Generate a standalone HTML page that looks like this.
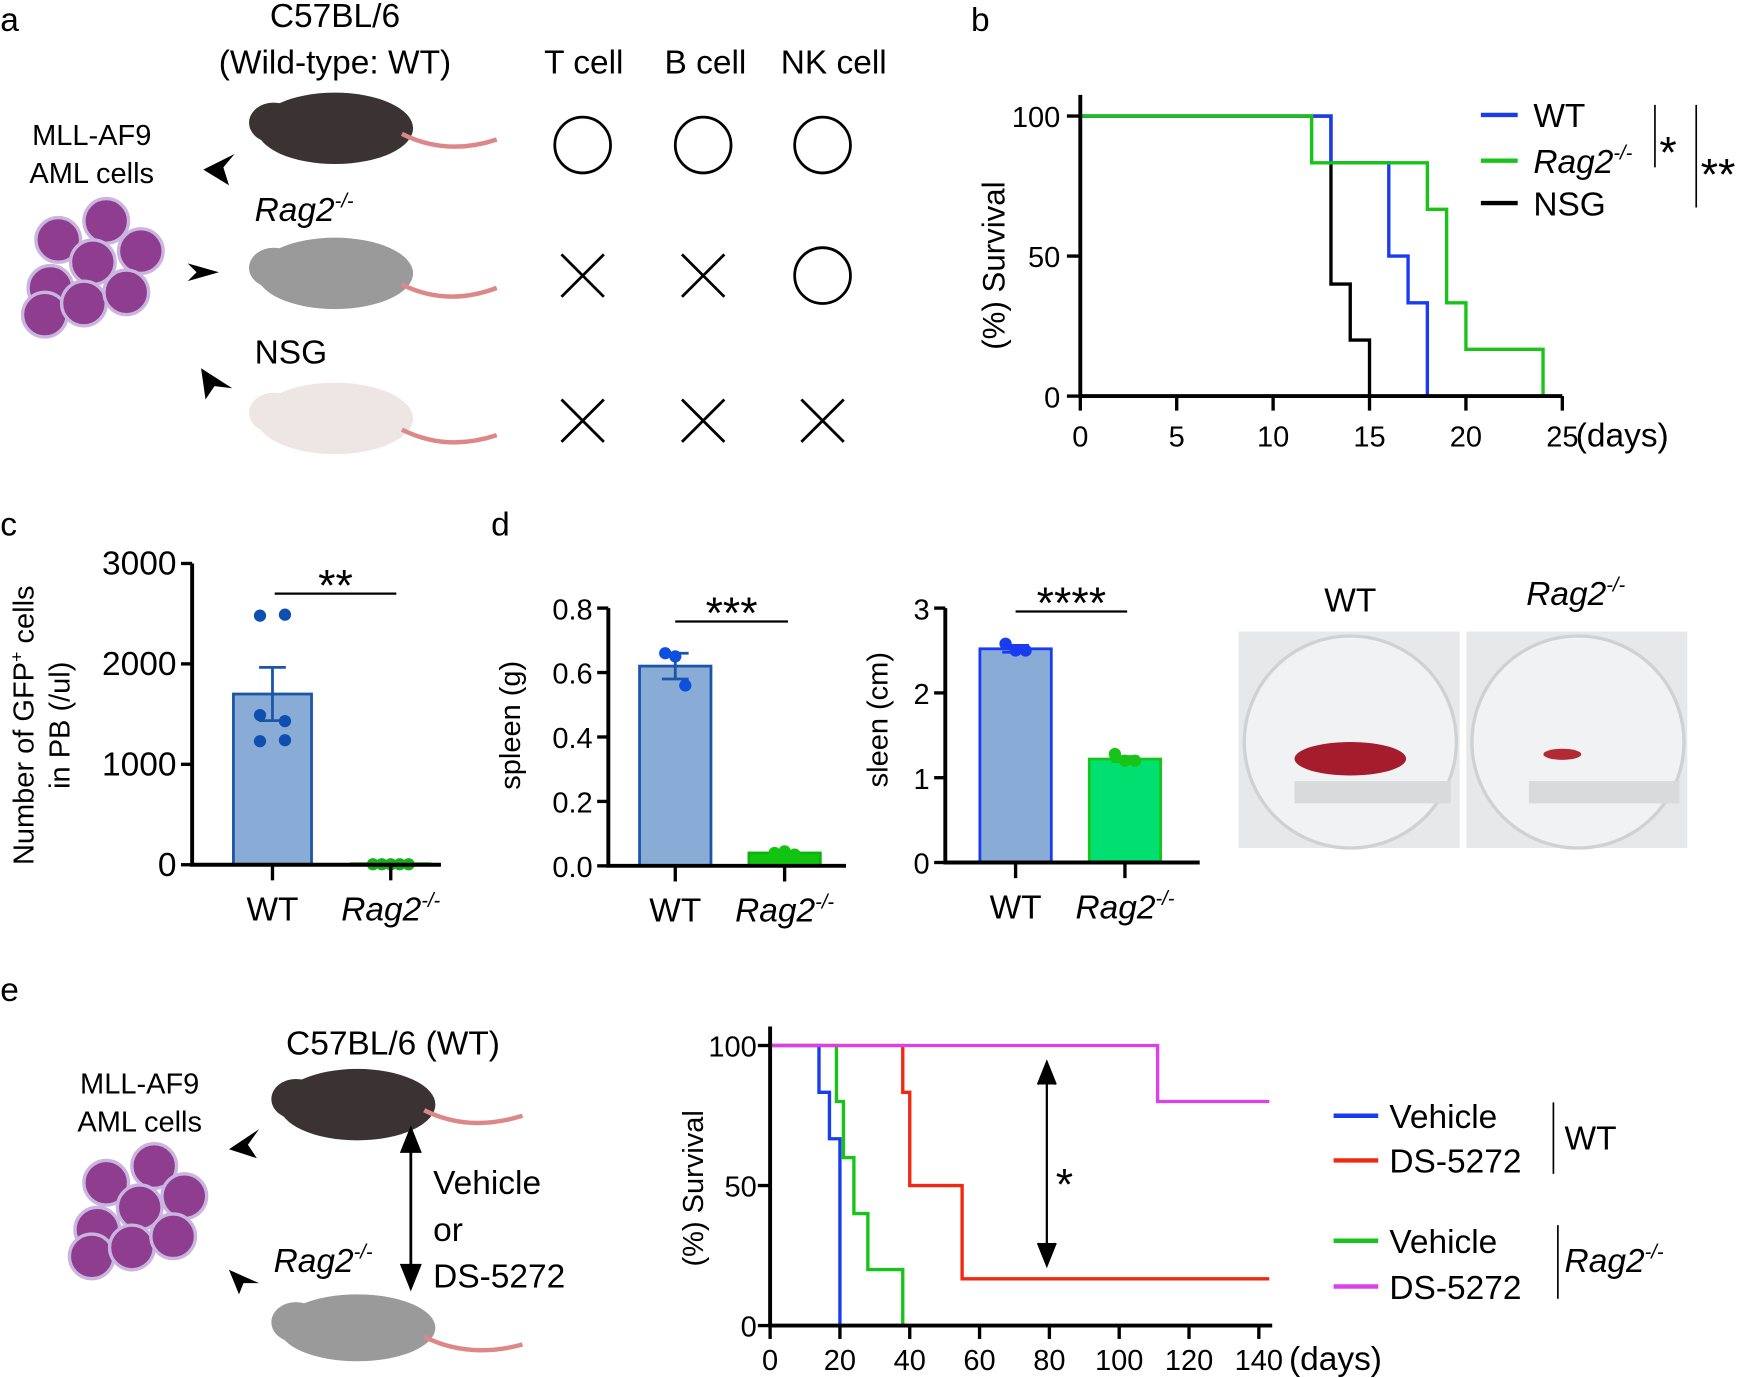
<!DOCTYPE html>
<html><head><meta charset="utf-8"><style>
html,body{margin:0;padding:0;background:#fff}
svg{display:block;font-family:"Liberation Sans",Arial,sans-serif}
</style></head><body>
<svg id="fig" width="1750" height="1378" viewBox="0 0 1568 1235" xmlns="http://www.w3.org/2000/svg">
<g id="static" font-size="30" fill="#000">
<text x="0" y="28">a</text>
<text x="300" y="24" text-anchor="middle">C57BL/6</text>
<text x="300" y="66" text-anchor="middle">(Wild-type: WT)</text>
<text x="523" y="66" text-anchor="middle">T cell</text>
<text x="632" y="66" text-anchor="middle">B cell</text>
<text x="747" y="66" text-anchor="middle">NK cell</text>
<text x="82" y="130" font-size="26" text-anchor="middle">MLL-AF9</text>
<text x="82" y="164" font-size="26" text-anchor="middle">AML cells</text>
<text x="228" y="198" font-style="italic">Rag2<tspan font-size="18" dy="-12">-/-</tspan></text>
<text x="228" y="326">NSG</text>
</g>
<g id="cells-a" fill="#8e3d8f" stroke="#c9b5e0" stroke-width="3">
<circle cx="52" cy="215" r="20"/><circle cx="95" cy="198" r="20"/><circle cx="126" cy="225" r="20"/><circle cx="83" cy="235" r="20"/><circle cx="45" cy="258" r="20"/><circle cx="40" cy="282" r="20"/><circle cx="75" cy="272" r="20"/><circle cx="113" cy="262" r="20"/>
</g>
<g fill="#000">
<polygon points="182,152 210,138 200,150 205,166"/>
<polygon points="168,236 196,244 168,252 176,244"/>
<polygon points="180,330 208,348 192,346 184,358"/>
</g>
<g><ellipse cx="300" cy="115" rx="70" ry="32" fill="#3b3333"/><ellipse cx="245" cy="110" rx="22" ry="18" fill="#3b3333"/><path d="M360 120 Q400 140 445 125" stroke="#d88" stroke-width="4" fill="none"/></g>
<g><ellipse cx="300" cy="245" rx="70" ry="32" fill="#9a9a9a"/><ellipse cx="245" cy="240" rx="22" ry="18" fill="#9a9a9a"/><path d="M360 255 Q400 275 445 258" stroke="#d88" stroke-width="4" fill="none"/></g>
<g><ellipse cx="300" cy="375" rx="70" ry="32" fill="#eee6e4"/><ellipse cx="245" cy="370" rx="22" ry="18" fill="#eee6e4"/><path d="M360 385 Q400 405 445 390" stroke="#d88" stroke-width="4" fill="none"/></g>
<g stroke="#000" stroke-width="2.5" fill="none">
<circle cx="522" cy="130" r="25"/><circle cx="630" cy="130" r="25"/><circle cx="737" cy="130" r="25"/>
<path d="M503 228 L541 266 M541 228 L503 266 M611 228 L649 266 M649 228 L611 266"/><circle cx="737" cy="247" r="25"/>
<path d="M503 358 L541 396 M541 358 L503 396 M611 358 L649 396 M649 358 L611 396 M718 358 L756 396 M756 358 L718 396"/>
</g>
<text x="870" y="28" font-size="30">b</text>
<text x="0" y="480" font-size="30">c</text>
<text x="440" y="480" font-size="30">d</text>
<text x="0" y="897" font-size="30">e</text>
<text x="1210" y="548" font-size="30" text-anchor="middle">WT</text>
<text x="1412" y="542" font-size="30" font-style="italic" text-anchor="middle">Rag2<tspan font-size="18" dy="-12">-/-</tspan></text>
<g><rect x="1110" y="566" width="198" height="194" fill="#e6e8ea"/><circle cx="1210" cy="665" r="95" fill="#f1f2f3" stroke="#cfd2d4" stroke-width="3"/><ellipse cx="1210" cy="680" rx="50" ry="15" fill="#a51d2d"/><rect x="1160" y="700" width="140" height="20" fill="#d8dadb"/></g>
<g><rect x="1314" y="566" width="198" height="194" fill="#e6e8ea"/><circle cx="1414" cy="665" r="95" fill="#f1f2f3" stroke="#cfd2d4" stroke-width="3"/><ellipse cx="1400" cy="676" rx="17" ry="5" fill="#b32a35"/><rect x="1370" y="700" width="135" height="20" fill="#d8dadb"/></g>
<text x="125" y="980" font-size="26" text-anchor="middle">MLL-AF9</text>
<text x="125" y="1014" font-size="26" text-anchor="middle">AML cells</text>
<text x="352" y="945" font-size="30" text-anchor="middle">C57BL/6 (WT)</text>
<text x="245" y="1140" font-size="30" font-style="italic">Rag2<tspan font-size="18" dy="-12">-/-</tspan></text>
<text x="388" y="1070" font-size="30">Vehicle</text>
<text x="388" y="1112" font-size="30">or</text>
<text x="388" y="1154" font-size="30">DS-5272</text>
<g fill="#8e3d8f" stroke="#c9b5e0" stroke-width="3">
<circle cx="95" cy="1060" r="20"/><circle cx="138" cy="1045" r="20"/><circle cx="165" cy="1072" r="20"/><circle cx="125" cy="1082" r="20"/><circle cx="87" cy="1102" r="20"/><circle cx="82" cy="1126" r="20"/><circle cx="118" cy="1118" r="20"/><circle cx="155" cy="1108" r="20"/></g>
<g><ellipse cx="320" cy="990" rx="70" ry="32" fill="#3b3333"/><ellipse cx="265" cy="985" rx="22" ry="18" fill="#3b3333"/><path d="M380 995 Q420 1015 468 1000" stroke="#d88" stroke-width="4" fill="none"/></g>
<g><ellipse cx="320" cy="1190" rx="70" ry="30" fill="#9a9a9a"/><ellipse cx="265" cy="1185" rx="22" ry="18" fill="#9a9a9a"/><path d="M380 1198 Q420 1218 468 1205" stroke="#d88" stroke-width="4" fill="none"/></g>
<g fill="#000"><polygon points="205,1030 232,1012 222,1026 230,1038"/><polygon points="205,1138 232,1150 218,1150 214,1160"/></g>
<g stroke="#000" stroke-width="2.5" fill="#000"><line x1="368" y1="1018" x2="368" y2="1148"/><polygon points="360,1032 368,1012 376,1032"/><polygon points="360,1134 368,1154 376,1134"/></g>
<g id="charts"></g>
</svg>
<script>
const bDays=[0,5,10,15,20,25];
const bYTicks=[0,50,100];
const bWT_t=[0,13,16,17,18];const bWT_s=[100,83.3,50,33.3,0];
const bRag_t=[0,12,18,19,20,24];const bRag_s=[100,83.3,66.7,33.3,16.7,0];
const bNSG_t=[0,13,14,15];const bNSG_s=[100,40,20,0];
const cCats=["WT","Rag2"];const cMeans=[1700,10];const cSEM=[265,3];
const cPtsWT=[2480,2490,1490,1430,1230,1240];const cPtsRag=[5,5,5,5,5];
const cTicks=[0,1000,2000,3000];
const d1Means=[0.62,0.04];const d1SEM=[0.04,0.003];const d1WT=[0.66,0.65,0.56];const d1Rag=[0.04,0.045,0.035];
const d1Ticks=[0,0.2,0.4,0.6,0.8];
const d2Means=[2.52,1.22];const d2SEM=[0.04,0.03];const d2WT=[2.58,2.5,2.5];const d2Rag=[1.28,1.2,1.2];
const d2Ticks=[0,1,2,3];
const eDays=[0,20,40,60,80,100,120,140];const eYTicks=[0,50,100];
const eVehWT_t=[0,14,17,20];const eVehWT_s=[100,83.3,66.7,0];
const eDsWT_t=[0,38,40,55];const eDsWT_s=[100,83.3,50,16.7];
const eVehRag_t=[0,19,21,24,28,38];const eVehRag_s=[100,80,60,40,20,0];
const eDsRag_t=[0,111];const eDsRag_s=[100,80];

const NS="http://www.w3.org/2000/svg";
const root=document.getElementById('charts');
function mk(tag,attrs,parent,text){const e=document.createElementNS(NS,tag);for(const k in attrs)e.setAttribute(k,attrs[k]);if(text!==undefined)e.textContent=text;(parent||root).appendChild(e);return e;}
function lin(d0,d1,r0,r1){return v=>r0+(v-d0)/(d1-d0)*(r1-r0);}
function stepPath(ts,ss,tEnd,x,y){let d=`M${x(ts[0])} ${y(ss[0])}`;for(let i=1;i<ts.length;i++){d+=` H${x(ts[i])} V${y(ss[i])}`;}if(tEnd!==null)d+=` H${x(tEnd)}`;return d;}

(function(){
const x=lin(0,25,968,1400),y=lin(0,100,355,104);
const g=mk('g',{});
const series=[[bNSG_t,bNSG_s,'#000','nsg-line'],[bWT_t,bWT_s,'#1a3cf0','wt-line'],[bRag_t,bRag_s,'#19c419','rag2-line']];
series.forEach(s=>{const p=mk('path',{d:stepPath(s[0],s[1],null,x,y),stroke:s[2],'stroke-width':3,fill:'none'},g);});
const ax=mk('path',{d:`M968 85 V355 H1400`,stroke:'#000','stroke-width':3.5,fill:'none'},g);
bDays.forEach(v=>{mk('line',{x1:x(v),x2:x(v),y1:355,y2:368,stroke:'#000','stroke-width':3},g);const t=mk('text',{x:x(v),y:400,'font-size':26,'text-anchor':'middle'},g,v);});
bYTicks.forEach(v=>{mk('line',{x1:956,x2:968,y1:y(v),y2:y(v),stroke:'#000','stroke-width':3},g);const t=mk('text',{x:950,y:y(v)+10,'font-size':26,'text-anchor':'end'},g,v);});
const xt=mk('text',{x:1412,y:400,'font-size':30},g,'(days)');
const yt=mk('text',{x:0,y:0,'font-size':28,'text-anchor':'middle',transform:'translate(900,238) rotate(-90)'},g,'(%) Survival');
const leg=[['WT','#1a3cf0',103],['Rag2','#19c419',144],['NSG','#000',182]];
leg.forEach(l=>{mk('line',{x1:1327,x2:1360,y1:l[2],y2:l[2],stroke:l[1],'stroke-width':4},g);const t=mk('text',{x:1374,y:l[2]+11,'font-size':30,'font-style':l[0]==='Rag2'?'italic':'normal'},g);t.textContent=l[0];if(l[0]==='Rag2'){mk('tspan',{'font-size':18,dy:-12},t,'-/-');}});
mk('line',{x1:1483,x2:1483,y1:94,y2:150,stroke:'#000','stroke-width':1.5},g);mk('line',{x1:1520,x2:1520,y1:94,y2:186,stroke:'#000','stroke-width':1.5},g);
const s1=mk('text',{x:1487,y:150,'font-size':40},g,'*');
const s2=mk('text',{x:1524,y:170,'font-size':40},g,'**');
})();

function barChart(o){
const y=lin(o.ymin,o.ymax,o.y0,o.y1);
const g=mk('g',{});
o.means.forEach((m,i)=>{const cx=o.cx[i];const r=mk('rect',{x:cx-o.bw/2,y:y(m),width:o.bw,height:o.y0-y(m),fill:o.fill[i],stroke:o.stroke[i],'stroke-width':2.5},g);
const e=o.sem[i];mk('path',{d:`M${cx} ${y(m-e)} V${y(m+e)} M${cx-12} ${y(m+e)} H${cx+12} M${cx-12} ${y(m-e)} H${cx+12}`,stroke:o.stroke[i],'stroke-width':2.5,fill:'none'},g);
o.pts[i].forEach((p,j)=>{const n=o.pts[i].length;const dx=(j%2?1:-1)*o.jit*(i===0&&n>3?1.4:1)+(n%2&&j===n-1?0:0);const off=(n<=3)?(j-(n-1)/2)*o.jit:((i===1)?(j-(n-1)/2)*o.jit:dx);const c=mk('circle',{cx:cx+off,cy:y(p),r:5.5,fill:o.dot[i]},g);});
mk('line',{x1:cx,x2:cx,y1:o.y0,y2:o.y0+14,stroke:'#000','stroke-width':3},g);
const t=mk('text',{x:cx,y:o.y0+50,'font-size':30,'text-anchor':'middle','font-style':i?'italic':'normal'},g,o.cats[i]);if(i)mk('tspan',{'font-size':18,dy:-12},t,'-/-');});
mk('path',{d:`M${o.ax} ${o.ytop} V${o.y0} H${o.xend}`,stroke:'#000','stroke-width':3.5,fill:'none'},g);
o.ticks.forEach(v=>{mk('line',{x1:o.ax-10,x2:o.ax,y1:y(v),y2:y(v),stroke:'#000','stroke-width':3},g);const t=mk('text',{x:o.ax-14,y:y(v)+10,'font-size':o.tfs,'text-anchor':'end'},g,o.fmt(v));});
mk('line',{x1:o.sig[0],x2:o.sig[1],y1:o.sig[2],y2:o.sig[2],stroke:'#000','stroke-width':2},g);
const st=mk('text',{x:(o.sig[0]+o.sig[1])/2,y:o.sig[2]+6,'font-size':40,'text-anchor':'middle'},g,o.star);
o.ytitle.forEach((tt,k)=>{const t=mk('text',{x:0,y:0,'font-size':26,'text-anchor':'middle',transform:`translate(${o.ytx+k*32},${o.tty}) rotate(-90)`},g);t.innerHTML=tt;});
}
barChart({name:'gfp-bar-chart-c',cats:cCats,means:cMeans,sem:cSEM,pts:[cPtsWT,cPtsRag],cx:[244,350],bw:70,ymin:0,ymax:3000,y0:775,y1:505,ytop:505,ax:172,xend:395,ticks:cTicks,fmt:v=>v,tfs:30,
fill:['#88acd6','#1fc41f'],stroke:['#1b56a8','#19b019'],dot:['#0f4fb0','#19b019'],jit:8,sig:[246,355,532],star:'**',ytitle:['Number of GFP<tspan font-size="16" dy="-10">+</tspan><tspan dy="10"> cells</tspan>','in PB (/ul)'],ytx:30,tty:650});
barChart({name:'spleen-weight-chart-d',cats:cCats,means:d1Means,sem:d1SEM,pts:[d1WT,d1Rag],cx:[605,703],bw:64,ymin:0,ymax:0.8,y0:776,y1:545,ytop:545,ax:545,xend:758,ticks:d1Ticks,fmt:v=>v.toFixed(1),tfs:26,
fill:['#88acd6','#11c411'],stroke:['#1b56a8','#11b011'],dot:['#0f4fdf','#11c411'],jit:9,sig:[605,706,557],star:'***',ytitle:['spleen (g)'],ytx:466,tty:650});
barChart({name:'spleen-length-chart-d',cats:cCats,means:d2Means,sem:d2SEM,pts:[d2WT,d2Rag],cx:[910,1008],bw:64,ymin:0,ymax:3,y0:773,y1:545,ytop:545,ax:847,xend:1075,ticks:d2Ticks,fmt:v=>v,tfs:26,
fill:['#88acd6','#00e070'],stroke:['#1a3cf0','#19c419'],dot:['#1a3cf0','#19c419'],jit:9,sig:[910,1010,548],star:'****',ytitle:['sleen (cm)'],ytx:795,tty:645});

(function(){
const x=lin(0,140,690,1128),y=lin(0,100,1188,937);
const g=mk('g',{});
const series=[[eVehWT_t,eVehWT_s,'#1a3cf0','vehicle-wt-line',null],[eVehRag_t,eVehRag_s,'#19c419','vehicle-rag2-line',null],[eDsWT_t,eDsWT_s,'#f02a10','ds5272-wt-line',143],[eDsRag_t,eDsRag_s,'#dd40e8','ds5272-rag2-line',143]];
series.forEach(s=>{const p=mk('path',{d:stepPath(s[0],s[1],s[4],x,y),stroke:s[2],'stroke-width':3,fill:'none'},g);});
mk('path',{d:`M690 920 V1188 H1140`,stroke:'#000','stroke-width':3.5,fill:'none'},g);
eDays.forEach(v=>{mk('line',{x1:x(v),x2:x(v),y1:1188,y2:1200,stroke:'#000','stroke-width':3},g);const t=mk('text',{x:x(v),y:1228,'font-size':26,'text-anchor':'middle'},g,v);});
eYTicks.forEach(v=>{mk('line',{x1:679,x2:690,y1:y(v),y2:y(v),stroke:'#000','stroke-width':3},g);const t=mk('text',{x:678,y:y(v)+10,'font-size':26,'text-anchor':'end'},g,v);});
const xt=mk('text',{x:1155,y:1228,'font-size':30},g,'(days)');
const yt=mk('text',{x:0,y:0,'font-size':26,'text-anchor':'middle',transform:'translate(630,1065) rotate(-90)'},g,'(%) Survival');
mk('path',{d:'M938 958 V1128 M930 972 L938 952 L946 972 M930 1114 L938 1134 L946 1114',stroke:'#000','stroke-width':2,fill:'#000'},g);
const st=mk('text',{x:946,y:1075,'font-size':40},g,'*');
const leg=[['Vehicle','#1a3cf0',1000],['DS-5272','#f02a10',1040],['Vehicle','#19c419',1112],['DS-5272','#dd40e8',1153]];
leg.forEach(l=>{mk('line',{x1:1195,x2:1235,y1:l[2],y2:l[2],stroke:l[1],'stroke-width':4},g);const t=mk('text',{x:1245,y:l[2]+11,'font-size':30},g,l[0]);});
mk('line',{x1:1392,x2:1392,y1:988,y2:1052,stroke:'#000','stroke-width':1.5},g);mk('line',{x1:1396,x2:1396,y1:1098,y2:1164,stroke:'#000','stroke-width':1.5},g);
const g1=mk('text',{x:1402,y:1030,'font-size':30},g,'WT');
const g2=mk('text',{x:1402,y:1140,'font-size':30,'font-style':'italic'},g,'Rag2');mk('tspan',{'font-size':18,dy:-12},g2,'-/-');
})();
</script>
</body></html>
